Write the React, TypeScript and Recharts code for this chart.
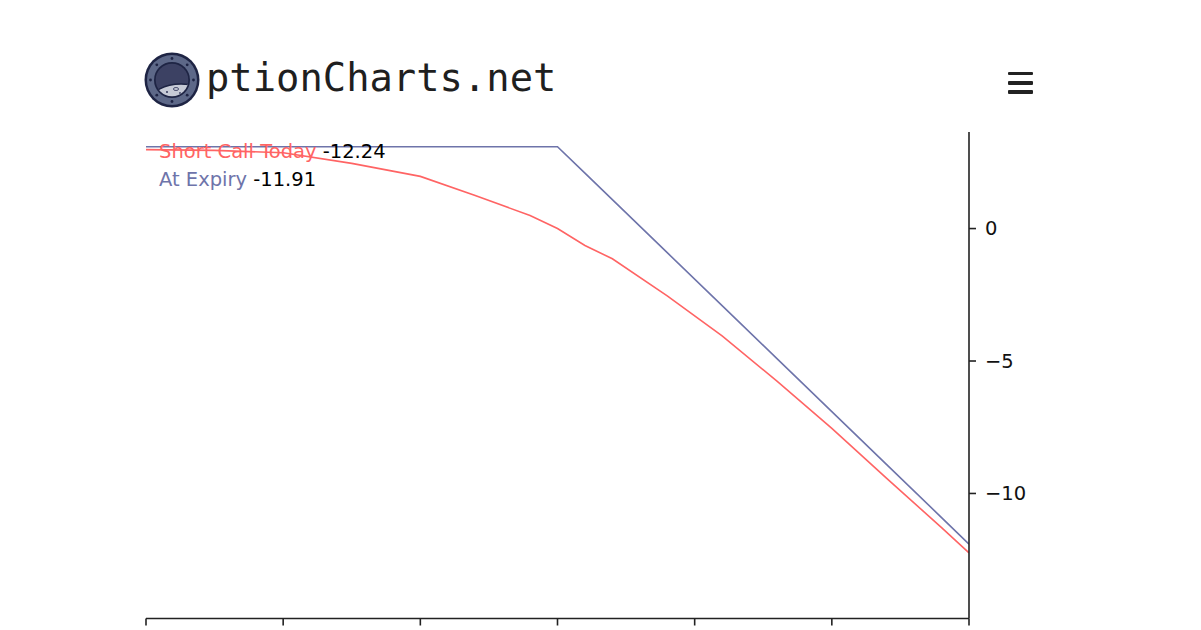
import React from 'react';
import { LineChart, Line, XAxis, YAxis } from 'recharts';

const prices = [0, 2.5, 5, 7.5, 10, 12, 14, 15, 16, 17, 19, 21, 23, 25, 27, 29, 30];
const todayValues = [2.98, 2.95, 2.86, 2.46, 1.97, 1.25, 0.49, 0.0, -0.64, -1.14, -2.54, -4.05, -5.76, -7.54, -9.43, -11.29, -12.24];
const expiryValues = [3.09, 3.09, 3.09, 3.09, 3.09, 3.09, 3.09, 3.09, 2.09, 1.09, -0.91, -2.91, -4.91, -6.91, -8.91, -10.91, -11.91];
const xTicks = [0, 5, 10, 15, 20, 25, 30];
const yTicks = [0, -5, -10];
const seriesNames = ['Short Call Today', 'At Expiry'];
const lastValues = ['-12.24', '-11.91'];

const data = prices.map((p, i) => ({ price: p, today: todayValues[i], expiry: expiryValues[i] }));

const RED = '#ff6464';
const BLUE = '#6e74aa';
const AXIS = '#222222';

const Logo = () => (
  <svg width={58} height={58} viewBox="0 0 58 58" style={{ position: 'absolute', left: 143, top: 51 }}>
    <circle cx={29} cy={29} r={27.5} fill="#1e2444" />
    <circle cx={29} cy={29} r={25} fill="#5d6888" />
    {[0, 45, 90, 135, 180, 225, 270, 315].map((a) => {
      const r = 21.5;
      const rad = (a * Math.PI) / 180;
      return <circle key={a} cx={29 + r * Math.cos(rad)} cy={29 + r * Math.sin(rad)} r={1.4} fill="#1e2444" />;
    })}
    <circle cx={29} cy={29} r={18} fill="#1e2444" />
    <circle cx={29} cy={29} r={16.3} fill="#3c4163" />
    <clipPath id="win">
      <circle cx={29} cy={29} r={16.3} />
    </clipPath>
    <g clipPath="url(#win)">
      <ellipse cx={38} cy={50} rx={30} ry={17} fill="#c6cad6" stroke="#1e2444" strokeWidth={1.4} />
      <ellipse cx={33} cy={38} rx={2.6} ry={1.5} fill="none" stroke="#3c4163" strokeWidth={0.9} />
      <circle cx={24} cy={41} r={1.1} fill="#3c4163" />
      <circle cx={37} cy={42} r={0.9} fill="#3c4163" />
    </g>
  </svg>
);

const App = () => {
  return (
    <div style={{ position: 'absolute', left: 0, top: 0, width: 1201, height: 630, background: '#fff', overflow: 'hidden' }}>
      <Logo />
      <div
        style={{
          position: 'absolute',
          left: 206,
          top: 52,
          fontFamily: '"DejaVu Sans Mono", monospace',
          fontSize: 38.8,
          lineHeight: '52px',
          color: '#1f1f1f',
        }}
      >
        ptionCharts.net
      </div>
      {[71.5, 80.8, 90.1].map((t) => (
        <div key={t} style={{ position: 'absolute', left: 1008, top: t, width: 25, height: 3.8, background: '#222', borderRadius: 1 }} />
      ))}
      <div style={{ position: 'absolute', left: 0, top: 0 }}>
        <LineChart width={1201} height={630} data={data} margin={{ top: 132, right: 152, bottom: 0, left: 146 }}>
          <XAxis
            dataKey="price"
            type="number"
            domain={[0, 30]}
            ticks={xTicks}
            height={11.5}
            tickSize={7}
            tick={() => <g />}
            stroke={AXIS}
            strokeWidth={1.6}
            allowDataOverflow
          />
          <YAxis
            orientation="right"
            type="number"
            domain={[-14.72, 3.645]}
            ticks={yTicks}
            width={80}
            tickSize={7}
            tickMargin={9}
            tickFormatter={(v: number) => String(v).replace('-', '\u2212')}
            tick={{ fill: '#111', fontSize: 19.5, fontFamily: '"DejaVu Sans", sans-serif' }}
            stroke={AXIS}
            strokeWidth={1.6}
            allowDataOverflow
          />
          <Line type="linear" dataKey="expiry" stroke={BLUE} strokeWidth={1.6} dot={false} isAnimationActive={false} />
          <Line type="linear" dataKey="today" stroke={RED} strokeWidth={1.6} dot={false} isAnimationActive={false} />
        </LineChart>
      </div>
      <div
        style={{
          position: 'absolute',
          left: 159,
          top: 138,
          fontFamily: '"DejaVu Sans", sans-serif',
          fontSize: 19.5,
          lineHeight: '28px',
          whiteSpace: 'nowrap',
        }}
      >
        <div>
          <span style={{ color: RED }}>{seriesNames[0]}</span> <span style={{ color: '#000' }}>{lastValues[0]}</span>
        </div>
        <div>
          <span style={{ color: BLUE }}>{seriesNames[1]}</span> <span style={{ color: '#000' }}>{lastValues[1]}</span>
        </div>
      </div>
    </div>
  );
};

export default App;
